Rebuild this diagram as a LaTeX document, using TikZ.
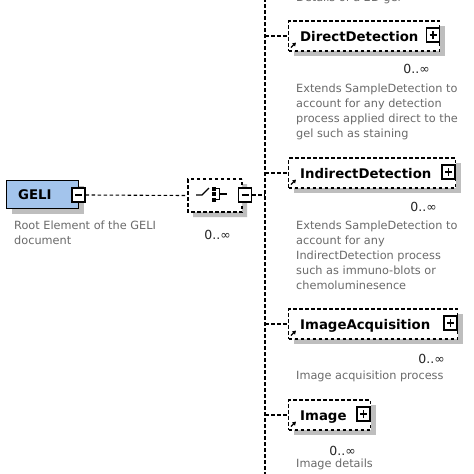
\documentclass[tikz,border=0pt]{standalone}
\usepackage{fontspec}
\setmainfont{DejaVu Sans}
\usetikzlibrary{arrows.meta,shapes.misc,shadows}
\definecolor{geliblue}{HTML}{A3C4EC}
\definecolor{shadowgray}{HTML}{BEBEBE}
\definecolor{desc}{HTML}{6A6A6A}
\begin{document}
\begin{tikzpicture}[x=1pt,y=-1pt,
  ln/.style={line width=1.1pt},
  conn/.style={ln, dash pattern=on 3.5pt off 2.5pt},
  shad/.style={drop shadow={opacity=1, fill=shadowgray, shadow xshift=5pt, shadow yshift=-5pt}},
  elbox/.style={conn, draw, fill=white, shad, minimum height=30pt, inner sep=0pt, anchor=west},
  pmbox/.style={ln, draw, fill=white, minimum width=13pt, minimum height=14pt, inner sep=0pt},
  plusbox/.style={pmbox, path picture={
     \draw[ln] ([xshift=3pt]path picture bounding box.west) -- ([xshift=-3pt]path picture bounding box.east);
     \draw[ln] ([yshift=3pt]path picture bounding box.south) -- ([yshift=-3pt]path picture bounding box.north);}},
  minusbox/.style={pmbox, path picture={
     \draw[ln] ([xshift=3pt]path picture bounding box.west) -- ([xshift=-3pt]path picture bounding box.east);}},
  title/.style={font=\bfseries\fontsize{13.3}{15}\selectfont, anchor=base west, inner sep=0pt},
  desctext/.style={text=desc, font=\fontsize{11.3}{15}\selectfont, align=left, anchor=north west, inner sep=0pt},
  occ/.style={font=\fontsize{12.5}{14}\selectfont, anchor=base east, inner sep=0pt, text=black!85},
  refarrow/.style={line width=1.2pt, -{Triangle[length=3.5pt,width=4pt]}}
]
\useasboundingbox (0,0) rectangle (474,474);
\clip (0,0) rectangle (474,474);
\fill[white] (0,0) rectangle (474,474);

% vertical connector line
\coordinate (vtop) at (265,-2);
\coordinate (vbot) at (265,476);
\draw[conn] (vtop) -- (vbot);

% clipped description at top
\node[desctext, anchor=base west] (topdesc) at (296,1.5) {Details of a 2D gel};

% GELI root element
\node[ln, draw, fill=geliblue, shad, minimum width=72pt, minimum height=28pt, anchor=north west, inner sep=0pt] (geli) at (6,180) {};
\node[title] (gelit) at (18,199) {GELI};
\node[minusbox] (gm) at (78.5,195) {};
\node[desctext] (gelid) at (14,220.5) {Root Element of the GELI\\document};

% sequence compositor
\node[conn, draw, fill=white, shad, chamfered rectangle, chamfered rectangle xsep=12pt, chamfered rectangle ysep=11pt,
      minimum width=54pt, minimum height=33pt, inner sep=0pt] (seq) at (215,195.5) {};
\draw[ln] (196,195) -- (202,195) -- (209,188);
\foreach \yy in {188.5,194,199.5} \fill (211.5,\yy-2) rectangle (215.5,\yy+2);
\draw[ln] (215,188.5) -- (219.5,188.5) -- (219.5,199.5) -- (215,199.5);
\draw[ln] (219.5,194) -- (227,194);
\node[minusbox] (sm) at (245,195) {};
\node[occ] (seqocc) at (231,239) {0..∞};
\draw[conn] (gm.east) -- (seq.west);
\draw[conn] (sm.east) -- (sm.east -| vtop);

% DirectDetection
\node[elbox, minimum width=151pt] (dd) at (288,36) {};
\node[title] (ddt) at (300,41) {DirectDetection};
\node[plusbox] (ddp) at (433,35) {};
\draw[refarrow] ([shift={(3pt,4pt)}]dd.south west) -- ++(5pt,5pt);
\node[occ] (ddo) at (430,73) {0..∞};
\node[desctext] (ddd) at (296,83.5) {Extends SampleDetection to\\account for any detection\\process applied direct to the\\gel such as staining};
\draw[conn] (dd.west -| vtop) -- (dd.west);

% IndirectDetection
\node[elbox, minimum width=167pt] (id) at (288,173) {};
\node[title] (idt) at (300,178) {IndirectDetection};
\node[plusbox] (idp) at (448.5,172) {};
\draw[refarrow] ([shift={(3pt,4pt)}]id.south west) -- ++(5pt,5pt);
\node[occ] (ido) at (437,211) {0..∞};
\node[desctext] (idd) at (296,220.5) {Extends SampleDetection to\\account for any\\IndirectDetection process\\such as immuno-blots or\\chemoluminesence};
\draw[conn] (id.west -| vtop) -- (id.west);

% ImageAcquisition
\node[elbox, minimum width=169pt] (ia) at (288,324) {};
\node[title] (iat) at (300,329) {ImageAcquisition};
\node[plusbox] (iap) at (450.5,323) {};
\draw[refarrow] ([shift={(3pt,4pt)}]ia.south west) -- ++(5pt,5pt);
\node[occ] (iao) at (445,363) {0..∞};
\node[desctext] (iad) at (296,370.5) {Image acquisition process};
\draw[conn] (ia.west -| vtop) -- (ia.west);

% Image
\node[elbox, minimum width=82pt] (im) at (288,415) {};
\node[title] (imt) at (300,420) {Image};
\node[plusbox] (imp) at (363.5,414) {};
\draw[refarrow] ([shift={(3pt,4pt)}]im.south west) -- ++(5pt,5pt);
\node[occ] (imo) at (356,455) {0..∞};
\node[desctext] (imd) at (296,458.5) {Image details};
\draw[conn] (im.west -| vtop) -- (im.west);
\end{tikzpicture}
\end{document}
